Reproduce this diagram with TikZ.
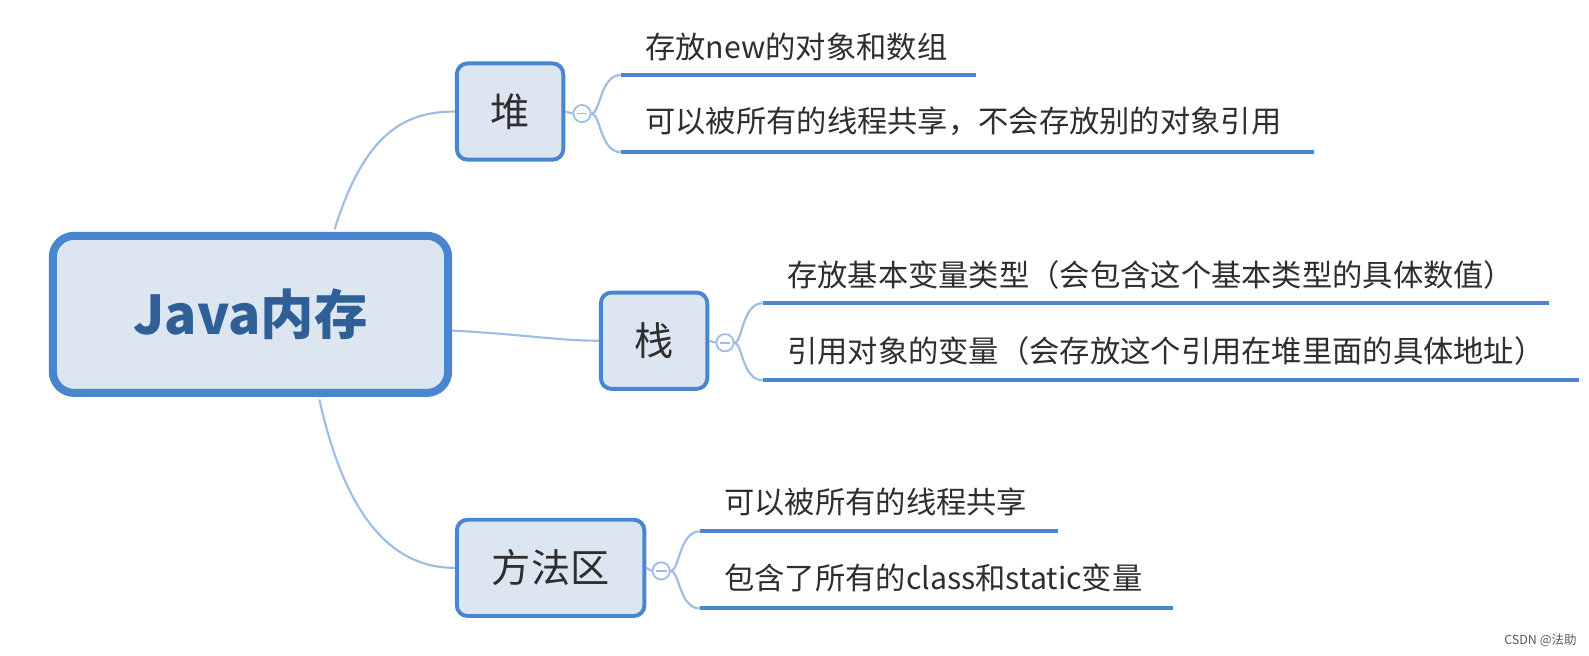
\documentclass[tikz,border=0pt]{standalone}
\usepackage{fontspec}
\setmainfont{Noto Sans CJK SC}
\definecolor{bfill}{HTML}{DCE6F1}
\definecolor{bline}{HTML}{4A86D0}
\definecolor{conn}{HTML}{9DBDE6}
\definecolor{ttext}{HTML}{2E2E2E}
\definecolor{ctext}{HTML}{2F5F96}
\begin{document}
\begin{tikzpicture}[x=0.02cm,y=-0.02cm,
  topic/.style={draw=bline,line width=2.2pt,fill=bfill,rounded corners=6pt,text=ttext,font=\fontsize{22}{25}\selectfont},
  leaf/.style={anchor=west,text=ttext,font=\fontsize{17}{20}\selectfont,inner sep=0pt},
  uline/.style={draw=bline,line width=2.2pt},
  conline/.style={draw=conn,line width=1.2pt},
  knob/.style={circle,draw=conn,line width=1pt,fill=white,minimum size=0.34cm,inner sep=0pt}]
\useasboundingbox (0,0) rectangle (1567,646);
\node[draw=bline,line width=4.5pt,fill=bfill,rounded corners=12pt,minimum width=7.8cm,minimum height=3.1cm,text=ctext,font=\fontsize{30}{34}\selectfont\bfseries] (c) at (247,310) {Java内存};
\node[topic,minimum width=2.1cm,minimum height=1.9cm] (h) at (503,110) {堆};
\node[topic,minimum width=2.1cm,minimum height=1.9cm] (s) at (645,336) {栈};
\node[topic,minimum width=3.7cm,minimum height=1.9cm] (m) at (543,560) {方法区};
\coordinate (ct) at (330,226);
\coordinate (cb) at (315,394);
\draw[conline] (ct) .. controls (360,130) and (400,110) .. (h.west);
\draw[conline] (c.east |- 0,326) .. controls (520,330) and (550,336) .. (s.west);
\draw[conline] (cb) .. controls (345,530) and (400,560) .. (m.west);
% knobs
\node[knob] (hk) at (574,112) {};
\node[knob] (sk) at (715,338) {};
\node[knob] (mk) at (652,563) {};
\foreach \k in {hk,sk,mk} \draw[conn,line width=1pt] ([xshift=-3pt]\k.center) -- ([xshift=3pt]\k.center);
\draw[conline] (h.east) -- (hk.west);
\draw[conline] (s.east) -- (sk.west);
\draw[conline] (m.east) -- (mk.west);
% heap
\coordinate (h1a) at (612,74); \coordinate (h1b) at (962,74);
\coordinate (h2a) at (612,150); \coordinate (h2b) at (1296,150);
\draw[conline] (hk.east) .. controls (592,112) and (592,74) .. (h1a);
\draw[conline] (hk.east) .. controls (592,112) and (592,150) .. (h2a);
\draw[uline] (h1a) -- (h1b); \draw[uline] (h2a) -- (h2b);
\node[leaf] (ht1) at (636,46) {存放new的对象和数组};
\node[leaf] (ht2) at (636,120) {可以被所有的线程共享，不会存放别的对象引用};
% stack
\coordinate (s1a) at (752,299); \coordinate (s1b) at (1528,299);
\coordinate (s2a) at (752,375); \coordinate (s2b) at (1557,375);
\draw[conline] (sk.east) .. controls (732,338) and (732,299) .. (s1a);
\draw[conline] (sk.east) .. controls (732,338) and (732,375) .. (s2a);
\draw[uline] (s1a) -- (s1b); \draw[uline] (s2a) -- (s2b);
\node[leaf] (st1) at (776,271) {存放基本变量类型（会包含这个基本类型的具体数值）};
\node[leaf] (st2) at (776,346) {引用对象的变量（会存放这个引用在堆里面的具体地址）};
% method area
\coordinate (m1a) at (690,524); \coordinate (m1b) at (1043,524);
\coordinate (m2a) at (690,600); \coordinate (m2b) at (1157,600);
\draw[conline] (mk.east) .. controls (670,563) and (670,524) .. (m1a);
\draw[conline] (mk.east) .. controls (670,563) and (670,600) .. (m2a);
\draw[uline] (m1a) -- (m1b); \draw[uline] (m2a) -- (m2b);
\node[leaf] (mt1) at (714,495) {可以被所有的线程共享};
\node[leaf] (mt2) at (714,570) {包含了所有的class和static变量};
\node[anchor=east,text=gray!70!black,font=\fontsize{7}{8}\selectfont,inner sep=0pt] (wm) at (1555,631) {CSDN @法助};
\end{tikzpicture}
\end{document}
